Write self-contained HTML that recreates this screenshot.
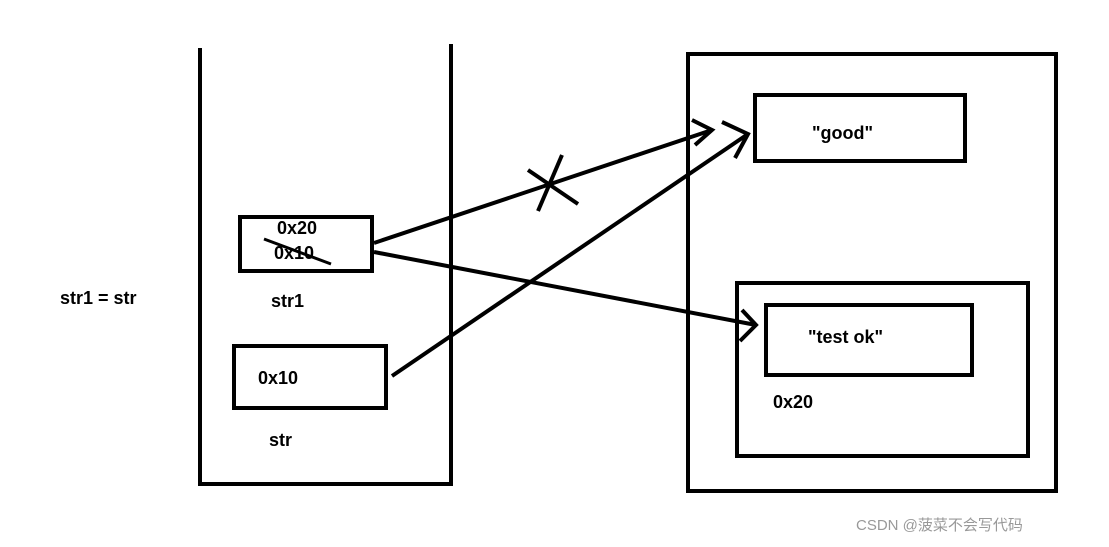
<!DOCTYPE html>
<html><head><style>
body{margin:0;width:1109px;height:542px;background:#fff;overflow:hidden}
text{font-family:"Liberation Sans",sans-serif;font-weight:bold;font-size:18px;fill:#000}
</style></head><body>
<svg width="1109" height="542" xmlns="http://www.w3.org/2000/svg">
<g fill="none" stroke="#000" stroke-width="4">
<polyline points="200,48 200,484 451,484 451,44"/>
<rect x="240" y="217" width="132" height="54"/>
<rect x="234" y="346" width="152" height="62"/>
<rect x="688" y="54" width="368" height="437"/>
<rect x="755" y="95" width="210" height="66"/>
<rect x="737" y="283" width="291" height="173"/>
<rect x="766" y="305" width="206" height="70"/>
<line x1="374" y1="243" x2="712" y2="130"/>
<polyline points="692,120 712,130 695,145"/>
<line x1="392" y1="376" x2="748" y2="134"/>
<polyline points="722,122 748,134 735,158"/>
<line x1="374" y1="252" x2="756" y2="325"/>
<polyline points="742,310 756,325 740,341"/>
<line x1="528" y1="170" x2="578" y2="204"/>
<line x1="562" y1="155" x2="538" y2="211"/>
<line x1="264" y1="239" x2="331" y2="264" stroke-width="3"/>
</g>
<text x="277" y="234">0x20</text>
<text x="274" y="259">0x10</text>
<text x="271" y="307">str1</text>
<text x="258" y="384">0x10</text>
<text x="269" y="446">str</text>
<text x="60" y="304">str1 = str</text>
<text x="812" y="139">"good"</text>
<text x="808" y="343">"test ok"</text>
<text x="773" y="408">0x20</text>
<text x="856" y="530" style="font-weight:normal;font-size:15px;fill:#999">CSDN @菠菜不会写代码</text>
</svg>
</body></html>
